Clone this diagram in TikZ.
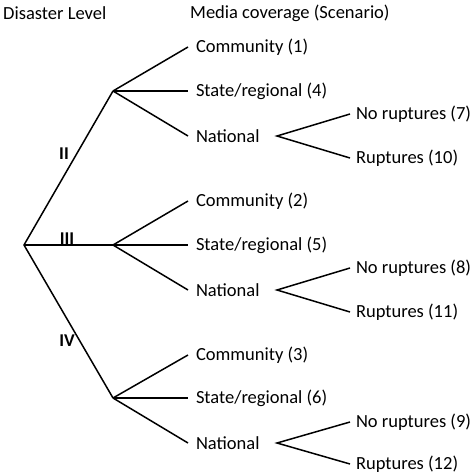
\documentclass[tikz,border=0pt]{standalone}
\usepackage{fontspec}
\setmainfont{Carlito}
\usetikzlibrary{positioning}

\begin{document}
\begin{tikzpicture}[
    x=1pt, y=-1pt,
    leaf/.style={anchor=west, inner xsep=8pt, inner ysep=0pt, outer sep=0pt, font=\fontsize{18.5}{20}\selectfont},
    sub/.style={anchor=west, inner xsep=6pt, inner ysep=0pt, outer sep=0pt, font=\fontsize{18.5}{20}\selectfont},
    head/.style={anchor=west, inner sep=0pt, font=\fontsize{18.5}{20}\selectfont},
    lvl/.style={inner sep=0pt, font=\fontsize{18}{20}\selectfont\bfseries},
    br/.style={line width=1.5pt, draw=black},
]
\useasboundingbox (0,0) rectangle (474,474);

% --- headings ---
\node (hdis) [head] at (3, 13) {Disaster Level};
\node (hmed) [head] at (190, 13) {Media coverage (Scenario)};

% --- branch points ---
\coordinate (root) at (24, 245);
\coordinate (nII)  at (113, 91);
\coordinate (nIII) at (113, 245);
\coordinate (nIV)  at (113, 398);

% --- level II ---
\node (com1) [leaf] at (188, 47)  {Community (1)};
\node (sta4) [leaf] at (188, 91)  {State/regional (4)};
\node (nat2) [leaf] at (188, 136) {National};
\coordinate (sII) at (277, 136);
\node (nor7) [sub] at (350, 114) {No ruptures (7)};
\node (rup10) [sub] at (350, 158) {Ruptures (10)};

% --- level III ---
\node (com2) [leaf] at (188, 201) {Community (2)};
\node (sta5) [leaf] at (188, 245) {State/regional (5)};
\node (nat3) [leaf] at (188, 290) {National};
\coordinate (sIII) at (277, 290);
\node (nor8) [sub] at (350, 268) {No ruptures (8)};
\node (rup11) [sub] at (350, 312) {Ruptures (11)};

% --- level IV ---
\node (com3) [leaf] at (188, 355) {Community (3)};
\node (sta6) [leaf] at (188, 398) {State/regional (6)};
\node (nat4) [leaf] at (188, 443) {National};
\coordinate (sIV) at (277, 443);
\node (nor9) [sub] at (350, 422) {No ruptures (9)};
\node (rup12) [sub] at (350, 464) {Ruptures (12)};

% --- level labels ---
\node (lII)  [lvl] at (64, 154) {II};
\node (lIII) [lvl] at (67, 239) {III};
\node (lIV)  [lvl] at (67, 341) {IV};

% --- branches ---
\draw [br] (nII) -- (root) -- (nIV);
\draw [br] (root) -- (nIII);

\draw [br] (nII) -- (com1.west);
\draw [br] (nII) -- (sta4.west);
\draw [br] (nII) -- (nat2.west);
\draw [br] (nor7.west) -- (sII) -- (rup10.west);

\draw [br] (nIII) -- (com2.west);
\draw [br] (nIII) -- (sta5.west);
\draw [br] (nIII) -- (nat3.west);
\draw [br] (nor8.west) -- (sIII) -- (rup11.west);

\draw [br] (nIV) -- (com3.west);
\draw [br] (nIV) -- (sta6.west);
\draw [br] (nIV) -- (nat4.west);
\draw [br] (nor9.west) -- (sIV) -- (rup12.west);

\end{tikzpicture}
\end{document}
